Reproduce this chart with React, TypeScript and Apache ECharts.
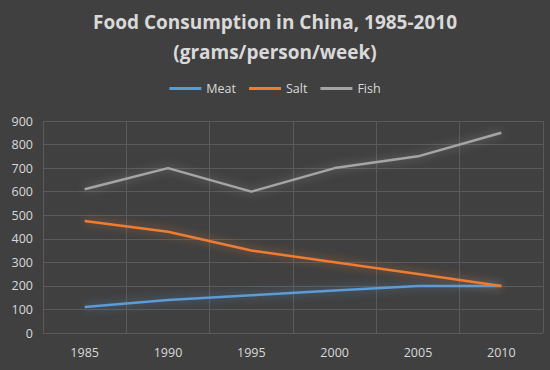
import React, { useEffect, useRef } from "react";
import * as echarts from "echarts";

const years = ["1985", "1990", "1995", "2000", "2005", "2010"];
const meat = [110, 140, 160, 180, 200, 200];
const salt = [475, 430, 350, 300, 250, 200];
const fish = [610, 700, 600, 700, 750, 850];

export default function App() {
  const ref = useRef<HTMLDivElement>(null);
  useEffect(() => {
    const chart = echarts.init(ref.current!, null, { renderer: "svg" });
    const mk = (name: string, data: number[], color: string, glow: string) => ({
      name,
      type: "line",
      data,
      symbol: "none",
      lineStyle: { width: 2.5, color, shadowColor: glow, shadowBlur: 10 },
      itemStyle: { color },
    });
    chart.setOption({
      animation: false,
      backgroundColor: "#404040",
      title: {
        text: "Food Consumption in China, 1985-2010\n(grams/person/week)",
        left: "center",
        top: 2,
        textStyle: {
          color: "#d9d9d9",
          fontFamily: "Open Sans",
          fontWeight: "bold",
          fontSize: 19,
          lineHeight: 30,
        },
      },
      legend: {
        top: 77,
        left: "center",
        icon: "rect",
        itemWidth: 32,
        itemHeight: 3,
        itemGap: 13,
        textStyle: { color: "#d9d9d9", fontFamily: "Open Sans", fontSize: 12.5 },
        data: ["Meat", "Salt", "Fish"],
      },
      grid: { left: 43, right: 7, top: 121, bottom: 37, containLabel: false },
      xAxis: {
        type: "category",
        data: years,
        boundaryGap: true,
        axisLine: { show: false },
        axisTick: { show: false },
        axisLabel: { color: "#d9d9d9", fontFamily: "Open Sans", fontSize: 12.5, margin: 13 },
        splitLine: { show: true, lineStyle: { color: "#5a5a5a", width: 1 } },
      },
      yAxis: {
        type: "value",
        min: 0,
        max: 900,
        interval: 100,
        axisLine: { show: false },
        axisTick: { show: false },
        axisLabel: { color: "#d9d9d9", fontFamily: "Open Sans", fontSize: 12.5, margin: 10 },
        splitLine: { lineStyle: { color: "#5a5a5a", width: 1 } },
      },
      series: [
        mk("Meat", meat, "#5b9bd5", "rgba(91,155,213,0.6)"),
        mk("Salt", salt, "#ed7d31", "rgba(237,125,49,0.6)"),
        mk("Fish", fish, "#a5a5a5", "rgba(165,165,165,0.6)"),
      ],
    });
    return () => chart.dispose();
  }, []);
  return <div ref={ref} style={{ width: 550, height: 370, position: "absolute", left: 0, top: 0 }} />;
}
